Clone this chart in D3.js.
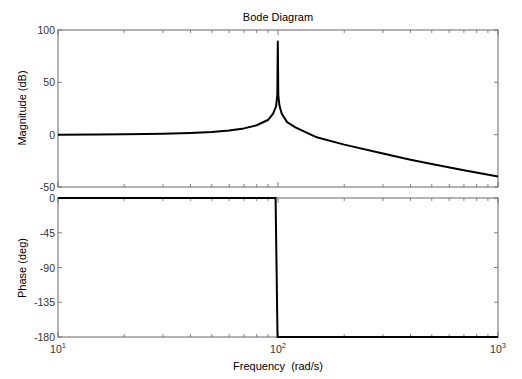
<!DOCTYPE html>
<html><head><meta charset="utf-8">
<script src="https://cdn.jsdelivr.net/npm/d3@7"></script>
<style>body{margin:0;background:#fff}svg{display:block}text{font-family:"Liberation Sans",Arial,sans-serif}</style>
</head><body><svg id="c" width="522" height="379"></svg>
<script>
// Data
const magFreq = [10,15,20,25,30,40,50,60,70,80,90,95,98,99.3,99.8,100.3,101.5,104,110,120,150,200,300,400,500,700,1000];
const magDb   = [0,0.2,0.4,0.6,0.9,1.6,2.5,3.9,6,9,14,20,27,38,89,38,28,20,12,7,-2.5,-9.5,-18,-24,-28,-34,-40];
const phaseFreq = [10,97.5,99.5,1000];
const phaseDeg  = [0,0,-180,-180];
const magTicks = [-50,0,50,100];
const phaseTicks = [-180,-135,-90,-45,0];

const svg = d3.select("#c");
const L=58,R=498;
const x = d3.scaleLog().domain([10,1000]).range([L,R]);
const yM = d3.scaleLinear().domain([-50,100]).range([187,30]);
const yP = d3.scaleLinear().domain([-180,0]).range([337,198]);
const frame="#666", tc="#333";
const minor=[];
for(let d=10; d<1000; d*=10) for(let k=2;k<=9;k++) minor.push(d*k);
const major=[10,100,1000];

function panel(y, ticks, fmtLabels){
  const [b,t]=y.range();
  const g=svg.append("g");
  g.append("rect").attr("x",L).attr("y",t).attr("width",R-L).attr("height",b-t)
   .attr("fill","none").attr("stroke",frame).attr("stroke-width",1);
  // x ticks top & bottom
  minor.concat(major).forEach(f=>{
    const len = major.includes(f)?5:3;
    g.append("line").attr("x1",x(f)).attr("x2",x(f)).attr("y1",b).attr("y2",b-len).attr("stroke",frame).attr("stroke-width",0.8);
    g.append("line").attr("x1",x(f)).attr("x2",x(f)).attr("y1",t).attr("y2",t+len).attr("stroke",frame).attr("stroke-width",0.8);
  });
  ticks.forEach(v=>{
    g.append("line").attr("x1",L).attr("x2",L+4).attr("y1",y(v)).attr("y2",y(v)).attr("stroke",frame).attr("stroke-width",0.8);
    g.append("line").attr("x1",R).attr("x2",R-4).attr("y1",y(v)).attr("y2",y(v)).attr("stroke",frame).attr("stroke-width",0.8);
    g.append("text").attr("x",L-3).attr("y",y(v)+4).attr("text-anchor","end")
     .attr("font-size",10.5).attr("fill",tc).text(v);
  });
  return g;
}
panel(yM, magTicks);
panel(yP, phaseTicks);

const line = d3.line().x(d=>x(d[0])).y(d=>d[1]);
svg.append("path").attr("d", line(magFreq.map((f,i)=>[f,yM(magDb[i])])))
  .attr("fill","none").attr("stroke","#000").attr("stroke-width",2).attr("stroke-linejoin","round");
svg.append("path").attr("d", line(phaseFreq.map((f,i)=>[f,yP(phaseDeg[i])])))
  .attr("fill","none").attr("stroke","#000").attr("stroke-width",2);

// x tick labels (bottom panel)
[[10,"1"],[100,"2"],[1000,"3"]].forEach(([f,e])=>{
  const t=svg.append("text").attr("x",x(f)).attr("y",353).attr("text-anchor","middle").attr("font-size",10.5).attr("fill",tc);
  t.append("tspan").text("10");
  t.append("tspan").attr("dy",-5).attr("font-size",7.5).text(e);
});

svg.append("text").attr("x",278).attr("y",21).attr("text-anchor","middle").attr("font-size",11).attr("fill","#000").text("Bode Diagram");
svg.append("text").attr("x",278).attr("y",370).attr("text-anchor","middle").attr("font-size",11).attr("fill","#000").attr("xml:space","preserve").text("Frequency  (rad/s)");
svg.append("text").attr("transform","translate(26,108) rotate(-90)").attr("text-anchor","middle").attr("font-size",11).attr("fill","#000").text("Magnitude (dB)");
svg.append("text").attr("transform","translate(26,268) rotate(-90)").attr("text-anchor","middle").attr("font-size",11).attr("fill","#000").text("Phase (deg)");
</script></body></html>
